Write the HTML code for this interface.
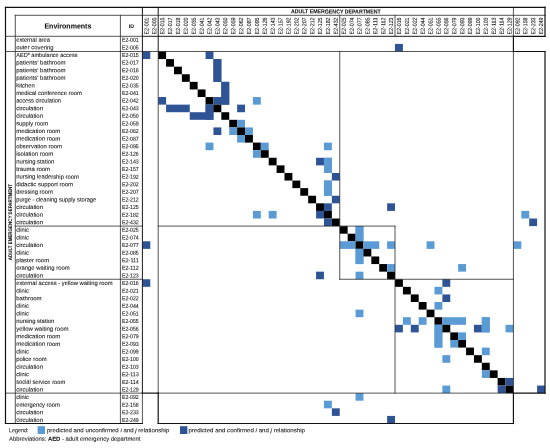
<!DOCTYPE html><html><head><meta charset="utf-8"><title>Adjacency matrix</title><style>html,body{margin:0;padding:0;background:#fff}svg{display:block}text{font-family:"Liberation Sans",sans-serif;fill:#111;stroke:#111;stroke-width:0.07px}</style></head><body>
<svg width="550" height="448" viewBox="0 0 550 448">
<rect width="550" height="448" fill="#fff"/>
<g shape-rendering="geometricPrecision">
<rect x="395.01" y="43.89" width="7.89" height="7.59" fill="#2f5496"/>
<rect x="142.40" y="51.48" width="7.89" height="7.59" fill="#2f5496"/>
<rect x="158.19" y="51.48" width="7.89" height="7.59" fill="#000"/>
<rect x="205.55" y="51.48" width="7.89" height="7.59" fill="#2f5496"/>
<rect x="166.08" y="59.08" width="7.89" height="7.59" fill="#000"/>
<rect x="213.45" y="59.08" width="7.89" height="7.59" fill="#2f5496"/>
<rect x="213.45" y="59.08" width="7.89" height="22.78" fill="#2f5496"/>
<rect x="173.98" y="66.67" width="7.89" height="7.59" fill="#000"/>
<rect x="213.45" y="66.67" width="7.89" height="7.59" fill="#2f5496"/>
<rect x="181.87" y="74.26" width="7.89" height="7.59" fill="#000"/>
<rect x="213.45" y="74.26" width="7.89" height="7.59" fill="#2f5496"/>
<rect x="189.76" y="81.85" width="7.89" height="7.59" fill="#000"/>
<rect x="221.34" y="81.85" width="7.89" height="7.59" fill="#2f5496"/>
<rect x="221.34" y="81.85" width="7.89" height="22.78" fill="#2f5496"/>
<rect x="197.66" y="89.45" width="7.89" height="7.59" fill="#000"/>
<rect x="221.34" y="89.45" width="7.89" height="7.59" fill="#2f5496"/>
<rect x="158.19" y="97.04" width="7.89" height="7.59" fill="#2f5496"/>
<rect x="205.55" y="97.04" width="7.89" height="7.59" fill="#000"/>
<rect x="213.45" y="97.04" width="15.79" height="7.59" fill="#2f5496"/>
<rect x="252.92" y="97.04" width="7.89" height="7.59" fill="#5b9bd5"/>
<rect x="166.08" y="104.63" width="23.68" height="7.59" fill="#2f5496"/>
<rect x="205.55" y="104.63" width="7.89" height="7.59" fill="#2f5496"/>
<rect x="205.55" y="104.63" width="7.89" height="15.18" fill="#2f5496"/>
<rect x="213.45" y="104.63" width="7.89" height="7.59" fill="#000"/>
<rect x="237.13" y="104.63" width="7.89" height="7.59" fill="#2f5496"/>
<rect x="189.76" y="112.22" width="23.68" height="7.59" fill="#2f5496"/>
<rect x="221.34" y="112.22" width="7.89" height="7.59" fill="#000"/>
<rect x="229.24" y="119.81" width="7.89" height="7.59" fill="#000"/>
<rect x="237.13" y="119.81" width="7.89" height="7.59" fill="#5b9bd5"/>
<rect x="213.45" y="127.41" width="7.89" height="7.59" fill="#2f5496"/>
<rect x="229.24" y="127.41" width="7.89" height="7.59" fill="#5b9bd5"/>
<rect x="237.13" y="127.41" width="7.89" height="7.59" fill="#000"/>
<rect x="245.02" y="127.41" width="7.89" height="7.59" fill="#5b9bd5"/>
<rect x="237.13" y="135.00" width="7.89" height="7.59" fill="#5b9bd5"/>
<rect x="245.02" y="135.00" width="7.89" height="7.59" fill="#000"/>
<rect x="205.55" y="142.59" width="7.89" height="7.59" fill="#5b9bd5"/>
<rect x="252.92" y="142.59" width="7.89" height="7.59" fill="#000"/>
<rect x="260.81" y="142.59" width="7.89" height="7.59" fill="#5b9bd5"/>
<rect x="323.96" y="142.59" width="7.89" height="7.59" fill="#5b9bd5"/>
<rect x="252.92" y="150.18" width="7.89" height="7.59" fill="#5b9bd5"/>
<rect x="260.81" y="150.18" width="7.89" height="7.59" fill="#000"/>
<rect x="268.71" y="157.77" width="7.89" height="7.59" fill="#000"/>
<rect x="316.07" y="157.77" width="7.89" height="7.59" fill="#2f5496"/>
<rect x="323.96" y="157.77" width="7.89" height="7.59" fill="#5b9bd5"/>
<rect x="323.96" y="157.77" width="7.89" height="15.18" fill="#5b9bd5"/>
<rect x="276.60" y="165.37" width="7.89" height="7.59" fill="#000"/>
<rect x="323.96" y="165.37" width="7.89" height="7.59" fill="#5b9bd5"/>
<rect x="284.49" y="172.96" width="7.89" height="7.59" fill="#000"/>
<rect x="331.86" y="172.96" width="7.89" height="7.59" fill="#2f5496"/>
<rect x="292.39" y="180.55" width="7.89" height="7.59" fill="#000"/>
<rect x="323.96" y="180.55" width="7.89" height="7.59" fill="#5b9bd5"/>
<rect x="323.96" y="180.55" width="7.89" height="15.18" fill="#5b9bd5"/>
<rect x="300.28" y="188.14" width="7.89" height="7.59" fill="#000"/>
<rect x="323.96" y="188.14" width="7.89" height="7.59" fill="#5b9bd5"/>
<rect x="308.18" y="195.74" width="7.89" height="7.59" fill="#000"/>
<rect x="331.86" y="195.74" width="7.89" height="7.59" fill="#2f5496"/>
<rect x="316.07" y="203.33" width="7.89" height="7.59" fill="#000"/>
<rect x="323.96" y="203.33" width="7.89" height="7.59" fill="#2f5496"/>
<rect x="387.12" y="203.33" width="7.89" height="7.59" fill="#2f5496"/>
<rect x="252.92" y="210.92" width="7.89" height="7.59" fill="#5b9bd5"/>
<rect x="268.71" y="210.92" width="7.89" height="7.59" fill="#5b9bd5"/>
<rect x="316.07" y="210.92" width="7.89" height="7.59" fill="#2f5496"/>
<rect x="323.96" y="210.92" width="7.89" height="7.59" fill="#000"/>
<rect x="521.32" y="210.92" width="7.89" height="7.59" fill="#5b9bd5"/>
<rect x="323.96" y="218.51" width="7.89" height="7.59" fill="#2f5496"/>
<rect x="331.86" y="218.51" width="7.89" height="7.59" fill="#000"/>
<rect x="529.21" y="218.51" width="7.89" height="7.59" fill="#2f5496"/>
<rect x="339.75" y="226.10" width="7.89" height="7.59" fill="#000"/>
<rect x="355.54" y="226.10" width="7.89" height="7.59" fill="#5b9bd5"/>
<rect x="355.54" y="226.10" width="7.89" height="15.18" fill="#5b9bd5"/>
<rect x="347.65" y="233.70" width="7.89" height="7.59" fill="#000"/>
<rect x="355.54" y="233.70" width="7.89" height="7.59" fill="#5b9bd5"/>
<rect x="142.40" y="241.29" width="7.89" height="7.59" fill="#2f5496"/>
<rect x="339.75" y="241.29" width="15.79" height="7.59" fill="#5b9bd5"/>
<rect x="355.54" y="241.29" width="7.89" height="7.59" fill="#000"/>
<rect x="363.44" y="241.29" width="15.79" height="7.59" fill="#5b9bd5"/>
<rect x="387.12" y="241.29" width="7.89" height="7.59" fill="#5b9bd5"/>
<rect x="426.59" y="241.29" width="7.89" height="7.59" fill="#5b9bd5"/>
<rect x="513.42" y="241.29" width="7.89" height="7.59" fill="#5b9bd5"/>
<rect x="355.54" y="248.88" width="7.89" height="7.59" fill="#5b9bd5"/>
<rect x="355.54" y="248.88" width="7.89" height="15.18" fill="#5b9bd5"/>
<rect x="363.44" y="248.88" width="7.89" height="7.59" fill="#000"/>
<rect x="355.54" y="256.47" width="7.89" height="7.59" fill="#5b9bd5"/>
<rect x="371.33" y="256.47" width="7.89" height="7.59" fill="#000"/>
<rect x="379.22" y="264.06" width="7.89" height="7.59" fill="#000"/>
<rect x="387.12" y="264.06" width="7.89" height="7.59" fill="#5b9bd5"/>
<rect x="458.16" y="264.06" width="7.89" height="7.59" fill="#5b9bd5"/>
<rect x="316.07" y="271.66" width="7.89" height="7.59" fill="#2f5496"/>
<rect x="355.54" y="271.66" width="7.89" height="7.59" fill="#5b9bd5"/>
<rect x="387.12" y="271.66" width="7.89" height="7.59" fill="#000"/>
<rect x="142.40" y="279.25" width="7.89" height="7.59" fill="#2f5496"/>
<rect x="395.01" y="279.25" width="7.89" height="7.59" fill="#000"/>
<rect x="442.38" y="279.25" width="7.89" height="7.59" fill="#2f5496"/>
<rect x="402.91" y="286.84" width="7.89" height="7.59" fill="#000"/>
<rect x="434.48" y="286.84" width="7.89" height="7.59" fill="#5b9bd5"/>
<rect x="410.80" y="294.43" width="7.89" height="7.59" fill="#000"/>
<rect x="442.38" y="294.43" width="7.89" height="7.59" fill="#2f5496"/>
<rect x="418.69" y="302.03" width="7.89" height="7.59" fill="#000"/>
<rect x="434.48" y="302.03" width="7.89" height="7.59" fill="#5b9bd5"/>
<rect x="355.54" y="309.62" width="7.89" height="7.59" fill="#5b9bd5"/>
<rect x="426.59" y="309.62" width="7.89" height="7.59" fill="#000"/>
<rect x="402.91" y="317.21" width="7.89" height="7.59" fill="#5b9bd5"/>
<rect x="418.69" y="317.21" width="7.89" height="7.59" fill="#5b9bd5"/>
<rect x="434.48" y="317.21" width="7.89" height="7.59" fill="#000"/>
<rect x="442.38" y="317.21" width="23.68" height="7.59" fill="#5b9bd5"/>
<rect x="481.85" y="317.21" width="7.89" height="7.59" fill="#5b9bd5"/>
<rect x="481.85" y="317.21" width="7.89" height="15.18" fill="#5b9bd5"/>
<rect x="395.01" y="324.80" width="7.89" height="7.59" fill="#2f5496"/>
<rect x="410.80" y="324.80" width="7.89" height="7.59" fill="#2f5496"/>
<rect x="434.48" y="324.80" width="7.89" height="7.59" fill="#5b9bd5"/>
<rect x="434.48" y="324.80" width="7.89" height="22.78" fill="#5b9bd5"/>
<rect x="442.38" y="324.80" width="7.89" height="7.59" fill="#000"/>
<rect x="473.95" y="324.80" width="7.89" height="7.59" fill="#2f5496"/>
<rect x="481.85" y="324.80" width="7.89" height="7.59" fill="#5b9bd5"/>
<rect x="505.53" y="324.80" width="7.89" height="7.59" fill="#5b9bd5"/>
<rect x="434.48" y="332.39" width="7.89" height="7.59" fill="#5b9bd5"/>
<rect x="450.27" y="332.39" width="7.89" height="7.59" fill="#000"/>
<rect x="458.16" y="332.39" width="7.89" height="7.59" fill="#5b9bd5"/>
<rect x="434.48" y="339.99" width="7.89" height="7.59" fill="#5b9bd5"/>
<rect x="450.27" y="339.99" width="7.89" height="7.59" fill="#5b9bd5"/>
<rect x="458.16" y="339.99" width="7.89" height="7.59" fill="#000"/>
<rect x="466.06" y="347.58" width="7.89" height="7.59" fill="#000"/>
<rect x="481.85" y="347.58" width="7.89" height="7.59" fill="#5b9bd5"/>
<rect x="442.38" y="355.17" width="7.89" height="7.59" fill="#5b9bd5"/>
<rect x="473.95" y="355.17" width="7.89" height="7.59" fill="#000"/>
<rect x="481.85" y="362.76" width="7.89" height="7.59" fill="#000"/>
<rect x="481.85" y="370.35" width="7.89" height="7.59" fill="#5b9bd5"/>
<rect x="489.74" y="370.35" width="7.89" height="7.59" fill="#000"/>
<rect x="497.64" y="377.95" width="7.89" height="7.59" fill="#000"/>
<rect x="505.53" y="377.95" width="7.89" height="7.59" fill="#2f5496"/>
<rect x="442.38" y="385.54" width="7.89" height="7.59" fill="#5b9bd5"/>
<rect x="497.64" y="385.54" width="7.89" height="7.59" fill="#2f5496"/>
<rect x="505.53" y="385.54" width="7.89" height="7.59" fill="#000"/>
<rect x="537.11" y="385.54" width="7.89" height="7.59" fill="#2f5496"/>
<rect x="355.54" y="393.13" width="7.89" height="7.59" fill="#5b9bd5"/>
<rect x="323.96" y="400.72" width="7.89" height="7.59" fill="#5b9bd5"/>
<rect x="331.86" y="408.32" width="7.89" height="7.59" fill="#2f5496"/>
<rect x="387.12" y="415.91" width="7.89" height="7.59" fill="#2f5496"/>
</g>
<g stroke="#2a2a2a" stroke-width="0.8" stroke-linecap="square" fill="none">
<line x1="15.30" y1="15.30" x2="545.00" y2="15.30"/>
<line x1="5.50" y1="36.30" x2="142.40" y2="36.30"/>
<line x1="5.50" y1="51.48" x2="513.42" y2="51.48"/>
<line x1="15.30" y1="226.10" x2="142.40" y2="226.10"/>
<line x1="158.19" y1="226.10" x2="395.01" y2="226.10"/>
<line x1="15.30" y1="279.25" x2="142.40" y2="279.25"/>
<line x1="339.75" y1="279.25" x2="513.42" y2="279.25"/>
<line x1="5.50" y1="393.13" x2="142.40" y2="393.13"/>
<line x1="158.19" y1="393.13" x2="513.42" y2="393.13"/>
<line x1="15.30" y1="15.30" x2="15.30" y2="423.50"/>
<line x1="120.40" y1="15.30" x2="120.40" y2="423.50"/>
<line x1="158.19" y1="51.48" x2="158.19" y2="393.13"/>
<line x1="339.75" y1="15.30" x2="339.75" y2="36.30"/>
<line x1="339.75" y1="51.48" x2="339.75" y2="279.25"/>
<line x1="395.01" y1="15.30" x2="395.01" y2="36.30"/>
<line x1="395.01" y1="226.10" x2="395.01" y2="393.13"/>
<line x1="513.42" y1="7.40" x2="513.42" y2="36.30"/>
<line x1="513.42" y1="51.48" x2="513.42" y2="393.13"/>
<line x1="142.40" y1="393.13" x2="142.40" y2="423.50"/>
</g>
<g stroke="#1a1a1a" stroke-width="1.0" stroke-linecap="square" fill="none">
<line x1="142.40" y1="36.30" x2="513.42" y2="36.30"/>
<line x1="142.40" y1="7.40" x2="142.40" y2="393.13"/>
<line x1="158.19" y1="7.40" x2="158.19" y2="51.48"/>
</g>
<g stroke="#111" stroke-width="1.2" stroke-linecap="square" fill="none">
<line x1="5.50" y1="7.40" x2="545.00" y2="7.40"/>
<line x1="5.50" y1="7.40" x2="5.50" y2="423.50"/>
<line x1="5.50" y1="423.50" x2="142.40" y2="423.50"/>
<line x1="545.00" y1="7.40" x2="545.00" y2="36.30"/>
<line x1="513.42" y1="36.30" x2="545.00" y2="36.30"/>
<line x1="513.42" y1="36.30" x2="513.42" y2="51.48"/>
<line x1="513.42" y1="51.48" x2="545.00" y2="51.48"/>
<line x1="545.00" y1="51.48" x2="545.00" y2="393.13"/>
<line x1="513.42" y1="393.13" x2="545.00" y2="393.13"/>
<line x1="513.42" y1="393.13" x2="513.42" y2="423.50"/>
<line x1="158.19" y1="423.50" x2="513.42" y2="423.50"/>
<line x1="158.19" y1="393.13" x2="158.19" y2="423.50"/>
<line x1="142.40" y1="393.13" x2="158.19" y2="393.13"/>
</g>
<text transform="matrix(1 0.001 0 1 0 -0.07)" x="67.9" y="28.6" text-anchor="middle" font-size="7.3" font-weight="bold" textLength="47" lengthAdjust="spacingAndGlyphs">Environments</text>
<text transform="matrix(1 0.001 0 1 0 -0.13)" x="131.4" y="28" text-anchor="middle" font-size="5.2" font-weight="bold">ID</text>
<text transform="matrix(1 0.001 0 1 0 -0.34)" x="335.8" y="13.4" text-anchor="middle" font-size="5.6" font-weight="bold" textLength="89.8" lengthAdjust="spacingAndGlyphs">ADULT EMERGENCY DEPARTMENT</text>
<text transform="translate(12,222.1) rotate(-90.04)" text-anchor="middle" font-size="5.2" font-weight="bold" textLength="76.3" lengthAdjust="spacingAndGlyphs">ADULT EMERGENCY DEPARTMENT</text>
<g font-size="5.85">
<text transform="matrix(1 0.001 0 1 0 -0.05)" x="16.2" y="41.80" textLength="33.79" lengthAdjust="spacingAndGlyphs">external area</text>
<text transform="matrix(1 0.001 0 1 0 -0.13)" x="121.9" y="41.80" textLength="16.9" lengthAdjust="spacingAndGlyphs">E2-001</text>
<text transform="matrix(1 0.001 0 1 0 -0.05)" x="16.2" y="49.40" textLength="37.33" lengthAdjust="spacingAndGlyphs">outer covering</text>
<text transform="matrix(1 0.001 0 1 0 -0.13)" x="121.9" y="49.40" textLength="16.9" lengthAdjust="spacingAndGlyphs">E2-005</text>
<text transform="matrix(1 0.001 0 1 0 -0.05)" x="16.2" y="57.00" textLength="61.37" lengthAdjust="spacingAndGlyphs">AED* ambulance access</text>
<text transform="matrix(1 0.001 0 1 0 -0.13)" x="121.9" y="57.00" textLength="16.9" lengthAdjust="spacingAndGlyphs">E2-015</text>
<text transform="matrix(1 0.001 0 1 0 -0.05)" x="16.2" y="64.61" textLength="49.38" lengthAdjust="spacingAndGlyphs">patients' bathroom</text>
<text transform="matrix(1 0.001 0 1 0 -0.13)" x="121.9" y="64.61" textLength="16.9" lengthAdjust="spacingAndGlyphs">E2-017</text>
<text transform="matrix(1 0.001 0 1 0 -0.05)" x="16.2" y="72.21" textLength="49.38" lengthAdjust="spacingAndGlyphs">patients' bathroom</text>
<text transform="matrix(1 0.001 0 1 0 -0.13)" x="121.9" y="72.21" textLength="16.9" lengthAdjust="spacingAndGlyphs">E2-018</text>
<text transform="matrix(1 0.001 0 1 0 -0.05)" x="16.2" y="79.81" textLength="49.38" lengthAdjust="spacingAndGlyphs">patients' bathroom</text>
<text transform="matrix(1 0.001 0 1 0 -0.13)" x="121.9" y="79.81" textLength="16.9" lengthAdjust="spacingAndGlyphs">E2-020</text>
<text transform="matrix(1 0.001 0 1 0 -0.05)" x="16.2" y="87.41" textLength="18.64" lengthAdjust="spacingAndGlyphs">kitchen</text>
<text transform="matrix(1 0.001 0 1 0 -0.13)" x="121.9" y="87.41" textLength="16.9" lengthAdjust="spacingAndGlyphs">E2-035</text>
<text transform="matrix(1 0.001 0 1 0 -0.05)" x="16.2" y="95.02" textLength="65.74" lengthAdjust="spacingAndGlyphs">medical conference room</text>
<text transform="matrix(1 0.001 0 1 0 -0.13)" x="121.9" y="95.02" textLength="16.9" lengthAdjust="spacingAndGlyphs">E2-041</text>
<text transform="matrix(1 0.001 0 1 0 -0.05)" x="16.2" y="102.62" textLength="44.77" lengthAdjust="spacingAndGlyphs">access circulation</text>
<text transform="matrix(1 0.001 0 1 0 -0.13)" x="121.9" y="102.62" textLength="16.9" lengthAdjust="spacingAndGlyphs">E2-042</text>
<text transform="matrix(1 0.001 0 1 0 -0.05)" x="16.2" y="110.22" textLength="26.80" lengthAdjust="spacingAndGlyphs">circulation</text>
<text transform="matrix(1 0.001 0 1 0 -0.13)" x="121.9" y="110.22" textLength="16.9" lengthAdjust="spacingAndGlyphs">E2-043</text>
<text transform="matrix(1 0.001 0 1 0 -0.05)" x="16.2" y="117.82" textLength="26.80" lengthAdjust="spacingAndGlyphs">circulation</text>
<text transform="matrix(1 0.001 0 1 0 -0.13)" x="121.9" y="117.82" textLength="16.9" lengthAdjust="spacingAndGlyphs">E2-050</text>
<text transform="matrix(1 0.001 0 1 0 -0.05)" x="16.2" y="125.42" textLength="31.89" lengthAdjust="spacingAndGlyphs">supply room</text>
<text transform="matrix(1 0.001 0 1 0 -0.13)" x="121.9" y="125.42" textLength="16.9" lengthAdjust="spacingAndGlyphs">E2-059</text>
<text transform="matrix(1 0.001 0 1 0 -0.05)" x="16.2" y="133.03" textLength="44.09" lengthAdjust="spacingAndGlyphs">medication room</text>
<text transform="matrix(1 0.001 0 1 0 -0.13)" x="121.9" y="133.03" textLength="16.9" lengthAdjust="spacingAndGlyphs">E2-062</text>
<text transform="matrix(1 0.001 0 1 0 -0.05)" x="16.2" y="140.63" textLength="44.09" lengthAdjust="spacingAndGlyphs">medication room</text>
<text transform="matrix(1 0.001 0 1 0 -0.13)" x="121.9" y="140.63" textLength="16.9" lengthAdjust="spacingAndGlyphs">E2-087</text>
<text transform="matrix(1 0.001 0 1 0 -0.05)" x="16.2" y="148.23" textLength="45.79" lengthAdjust="spacingAndGlyphs">observation room</text>
<text transform="matrix(1 0.001 0 1 0 -0.13)" x="121.9" y="148.23" textLength="16.9" lengthAdjust="spacingAndGlyphs">E2-095</text>
<text transform="matrix(1 0.001 0 1 0 -0.05)" x="16.2" y="155.83" textLength="37.13" lengthAdjust="spacingAndGlyphs">isolation room</text>
<text transform="matrix(1 0.001 0 1 0 -0.13)" x="121.9" y="155.83" textLength="16.9" lengthAdjust="spacingAndGlyphs">E2-126</text>
<text transform="matrix(1 0.001 0 1 0 -0.05)" x="16.2" y="163.43" textLength="38.16" lengthAdjust="spacingAndGlyphs">nursing station</text>
<text transform="matrix(1 0.001 0 1 0 -0.13)" x="121.9" y="163.43" textLength="16.9" lengthAdjust="spacingAndGlyphs">E2-143</text>
<text transform="matrix(1 0.001 0 1 0 -0.05)" x="16.2" y="171.04" textLength="33.90" lengthAdjust="spacingAndGlyphs">trauma room</text>
<text transform="matrix(1 0.001 0 1 0 -0.13)" x="121.9" y="171.04" textLength="16.9" lengthAdjust="spacingAndGlyphs">E2-157</text>
<text transform="matrix(1 0.001 0 1 0 -0.05)" x="16.2" y="178.64" textLength="62.64" lengthAdjust="spacingAndGlyphs">nursing leadership room</text>
<text transform="matrix(1 0.001 0 1 0 -0.13)" x="121.9" y="178.64" textLength="16.9" lengthAdjust="spacingAndGlyphs">E2-192</text>
<text transform="matrix(1 0.001 0 1 0 -0.05)" x="16.2" y="186.24" textLength="56.81" lengthAdjust="spacingAndGlyphs">didactic support room</text>
<text transform="matrix(1 0.001 0 1 0 -0.13)" x="121.9" y="186.24" textLength="16.9" lengthAdjust="spacingAndGlyphs">E2-202</text>
<text transform="matrix(1 0.001 0 1 0 -0.05)" x="16.2" y="193.84" textLength="36.53" lengthAdjust="spacingAndGlyphs">dressing room</text>
<text transform="matrix(1 0.001 0 1 0 -0.13)" x="121.9" y="193.84" textLength="16.9" lengthAdjust="spacingAndGlyphs">E2-207</text>
<text transform="matrix(1 0.001 0 1 0 -0.05)" x="16.2" y="201.45" textLength="80.02" lengthAdjust="spacingAndGlyphs">purge - cleaning supply storage</text>
<text transform="matrix(1 0.001 0 1 0 -0.13)" x="121.9" y="201.45" textLength="16.9" lengthAdjust="spacingAndGlyphs">E2-212</text>
<text transform="matrix(1 0.001 0 1 0 -0.05)" x="16.2" y="209.05" textLength="26.80" lengthAdjust="spacingAndGlyphs">circulation</text>
<text transform="matrix(1 0.001 0 1 0 -0.13)" x="121.9" y="209.05" textLength="16.9" lengthAdjust="spacingAndGlyphs">E2-125</text>
<text transform="matrix(1 0.001 0 1 0 -0.05)" x="16.2" y="216.65" textLength="26.80" lengthAdjust="spacingAndGlyphs">circulation</text>
<text transform="matrix(1 0.001 0 1 0 -0.13)" x="121.9" y="216.65" textLength="16.9" lengthAdjust="spacingAndGlyphs">E2-182</text>
<text transform="matrix(1 0.001 0 1 0 -0.05)" x="16.2" y="224.25" textLength="26.80" lengthAdjust="spacingAndGlyphs">circulation</text>
<text transform="matrix(1 0.001 0 1 0 -0.13)" x="121.9" y="224.25" textLength="16.9" lengthAdjust="spacingAndGlyphs">E2-432</text>
<text transform="matrix(1 0.001 0 1 0 -0.05)" x="16.2" y="231.85" textLength="12.73" lengthAdjust="spacingAndGlyphs">clinic</text>
<text transform="matrix(1 0.001 0 1 0 -0.13)" x="121.9" y="231.85" textLength="16.9" lengthAdjust="spacingAndGlyphs">E2-025</text>
<text transform="matrix(1 0.001 0 1 0 -0.05)" x="16.2" y="239.46" textLength="12.73" lengthAdjust="spacingAndGlyphs">clinic</text>
<text transform="matrix(1 0.001 0 1 0 -0.13)" x="121.9" y="239.46" textLength="16.9" lengthAdjust="spacingAndGlyphs">E2-074</text>
<text transform="matrix(1 0.001 0 1 0 -0.05)" x="16.2" y="247.06" textLength="26.80" lengthAdjust="spacingAndGlyphs">circulation</text>
<text transform="matrix(1 0.001 0 1 0 -0.13)" x="121.9" y="247.06" textLength="16.9" lengthAdjust="spacingAndGlyphs">E2-077</text>
<text transform="matrix(1 0.001 0 1 0 -0.05)" x="16.2" y="254.66" textLength="12.73" lengthAdjust="spacingAndGlyphs">clinic</text>
<text transform="matrix(1 0.001 0 1 0 -0.13)" x="121.9" y="254.66" textLength="16.9" lengthAdjust="spacingAndGlyphs">E2-085</text>
<text transform="matrix(1 0.001 0 1 0 -0.05)" x="16.2" y="262.26" textLength="32.89" lengthAdjust="spacingAndGlyphs">plaster room</text>
<text transform="matrix(1 0.001 0 1 0 -0.13)" x="121.9" y="262.26" textLength="16.9" lengthAdjust="spacingAndGlyphs">E2-111</text>
<text transform="matrix(1 0.001 0 1 0 -0.05)" x="16.2" y="269.86" textLength="53.54" lengthAdjust="spacingAndGlyphs">orange waiting room</text>
<text transform="matrix(1 0.001 0 1 0 -0.13)" x="121.9" y="269.86" textLength="16.9" lengthAdjust="spacingAndGlyphs">E2-112</text>
<text transform="matrix(1 0.001 0 1 0 -0.05)" x="16.2" y="277.47" textLength="26.80" lengthAdjust="spacingAndGlyphs">circulation</text>
<text transform="matrix(1 0.001 0 1 0 -0.13)" x="121.9" y="277.47" textLength="16.9" lengthAdjust="spacingAndGlyphs">E2-123</text>
<text transform="matrix(1 0.001 0 1 0 -0.05)" x="16.2" y="285.07" textLength="96.32" lengthAdjust="spacingAndGlyphs">external access - yellow waiting room</text>
<text transform="matrix(1 0.001 0 1 0 -0.13)" x="121.9" y="285.07" textLength="16.9" lengthAdjust="spacingAndGlyphs">E2-016</text>
<text transform="matrix(1 0.001 0 1 0 -0.05)" x="16.2" y="292.67" textLength="12.73" lengthAdjust="spacingAndGlyphs">clinic</text>
<text transform="matrix(1 0.001 0 1 0 -0.13)" x="121.9" y="292.67" textLength="16.9" lengthAdjust="spacingAndGlyphs">E2-021</text>
<text transform="matrix(1 0.001 0 1 0 -0.05)" x="16.2" y="300.27" textLength="25.47" lengthAdjust="spacingAndGlyphs">bathroom</text>
<text transform="matrix(1 0.001 0 1 0 -0.13)" x="121.9" y="300.27" textLength="16.9" lengthAdjust="spacingAndGlyphs">E2-022</text>
<text transform="matrix(1 0.001 0 1 0 -0.05)" x="16.2" y="307.88" textLength="12.73" lengthAdjust="spacingAndGlyphs">clinic</text>
<text transform="matrix(1 0.001 0 1 0 -0.13)" x="121.9" y="307.88" textLength="16.9" lengthAdjust="spacingAndGlyphs">E2-044</text>
<text transform="matrix(1 0.001 0 1 0 -0.05)" x="16.2" y="315.48" textLength="12.73" lengthAdjust="spacingAndGlyphs">clinic</text>
<text transform="matrix(1 0.001 0 1 0 -0.13)" x="121.9" y="315.48" textLength="16.9" lengthAdjust="spacingAndGlyphs">E2-051</text>
<text transform="matrix(1 0.001 0 1 0 -0.05)" x="16.2" y="323.08" textLength="38.16" lengthAdjust="spacingAndGlyphs">nursing station</text>
<text transform="matrix(1 0.001 0 1 0 -0.13)" x="121.9" y="323.08" textLength="16.9" lengthAdjust="spacingAndGlyphs">E2-055</text>
<text transform="matrix(1 0.001 0 1 0 -0.05)" x="16.2" y="330.68" textLength="52.29" lengthAdjust="spacingAndGlyphs">yellow waiting room</text>
<text transform="matrix(1 0.001 0 1 0 -0.13)" x="121.9" y="330.68" textLength="16.9" lengthAdjust="spacingAndGlyphs">E2-056</text>
<text transform="matrix(1 0.001 0 1 0 -0.05)" x="16.2" y="338.28" textLength="44.09" lengthAdjust="spacingAndGlyphs">medication room</text>
<text transform="matrix(1 0.001 0 1 0 -0.13)" x="121.9" y="338.28" textLength="16.9" lengthAdjust="spacingAndGlyphs">E2-079</text>
<text transform="matrix(1 0.001 0 1 0 -0.05)" x="16.2" y="345.89" textLength="44.09" lengthAdjust="spacingAndGlyphs">medication room</text>
<text transform="matrix(1 0.001 0 1 0 -0.13)" x="121.9" y="345.89" textLength="16.9" lengthAdjust="spacingAndGlyphs">E2-093</text>
<text transform="matrix(1 0.001 0 1 0 -0.05)" x="16.2" y="353.49" textLength="12.73" lengthAdjust="spacingAndGlyphs">clinic</text>
<text transform="matrix(1 0.001 0 1 0 -0.13)" x="121.9" y="353.49" textLength="16.9" lengthAdjust="spacingAndGlyphs">E2-099</text>
<text transform="matrix(1 0.001 0 1 0 -0.05)" x="16.2" y="361.09" textLength="30.51" lengthAdjust="spacingAndGlyphs">police room</text>
<text transform="matrix(1 0.001 0 1 0 -0.13)" x="121.9" y="361.09" textLength="16.9" lengthAdjust="spacingAndGlyphs">E2-100</text>
<text transform="matrix(1 0.001 0 1 0 -0.05)" x="16.2" y="368.69" textLength="26.80" lengthAdjust="spacingAndGlyphs">circulation</text>
<text transform="matrix(1 0.001 0 1 0 -0.13)" x="121.9" y="368.69" textLength="16.9" lengthAdjust="spacingAndGlyphs">E2-103</text>
<text transform="matrix(1 0.001 0 1 0 -0.05)" x="16.2" y="376.29" textLength="12.73" lengthAdjust="spacingAndGlyphs">clinic</text>
<text transform="matrix(1 0.001 0 1 0 -0.13)" x="121.9" y="376.29" textLength="16.9" lengthAdjust="spacingAndGlyphs">E2-113</text>
<text transform="matrix(1 0.001 0 1 0 -0.05)" x="16.2" y="383.90" textLength="49.01" lengthAdjust="spacingAndGlyphs">social service room</text>
<text transform="matrix(1 0.001 0 1 0 -0.13)" x="121.9" y="383.90" textLength="16.9" lengthAdjust="spacingAndGlyphs">E2-114</text>
<text transform="matrix(1 0.001 0 1 0 -0.05)" x="16.2" y="391.50" textLength="26.80" lengthAdjust="spacingAndGlyphs">circulation</text>
<text transform="matrix(1 0.001 0 1 0 -0.13)" x="121.9" y="391.50" textLength="16.9" lengthAdjust="spacingAndGlyphs">E2-129</text>
<text transform="matrix(1 0.001 0 1 0 -0.05)" x="16.2" y="399.10" textLength="12.73" lengthAdjust="spacingAndGlyphs">clinic</text>
<text transform="matrix(1 0.001 0 1 0 -0.13)" x="121.9" y="399.10" textLength="16.9" lengthAdjust="spacingAndGlyphs">E2-092</text>
<text transform="matrix(1 0.001 0 1 0 -0.05)" x="16.2" y="406.70" textLength="43.72" lengthAdjust="spacingAndGlyphs">emergency room</text>
<text transform="matrix(1 0.001 0 1 0 -0.13)" x="121.9" y="406.70" textLength="16.9" lengthAdjust="spacingAndGlyphs">E2-158</text>
<text transform="matrix(1 0.001 0 1 0 -0.05)" x="16.2" y="414.31" textLength="26.80" lengthAdjust="spacingAndGlyphs">circulation</text>
<text transform="matrix(1 0.001 0 1 0 -0.13)" x="121.9" y="414.31" textLength="16.9" lengthAdjust="spacingAndGlyphs">E2-233</text>
<text transform="matrix(1 0.001 0 1 0 -0.05)" x="16.2" y="421.91" textLength="26.80" lengthAdjust="spacingAndGlyphs">circulation</text>
<text transform="matrix(1 0.001 0 1 0 -0.13)" x="121.9" y="421.91" textLength="16.9" lengthAdjust="spacingAndGlyphs">E2-249</text>
</g>
<g font-size="5.85">
<text transform="translate(148.40,34.6) rotate(-90.06)" textLength="17.2" lengthAdjust="spacingAndGlyphs">E2-001</text>
<text transform="translate(156.29,34.6) rotate(-90.06)" textLength="17.2" lengthAdjust="spacingAndGlyphs">E2-005</text>
<text transform="translate(164.19,34.6) rotate(-90.06)" textLength="17.2" lengthAdjust="spacingAndGlyphs">E2-015</text>
<text transform="translate(172.08,34.6) rotate(-90.06)" textLength="17.2" lengthAdjust="spacingAndGlyphs">E2-017</text>
<text transform="translate(179.97,34.6) rotate(-90.06)" textLength="17.2" lengthAdjust="spacingAndGlyphs">E2-018</text>
<text transform="translate(187.87,34.6) rotate(-90.06)" textLength="17.2" lengthAdjust="spacingAndGlyphs">E2-020</text>
<text transform="translate(195.76,34.6) rotate(-90.06)" textLength="17.2" lengthAdjust="spacingAndGlyphs">E2-035</text>
<text transform="translate(203.66,34.6) rotate(-90.06)" textLength="17.2" lengthAdjust="spacingAndGlyphs">E2-041</text>
<text transform="translate(211.55,34.6) rotate(-90.06)" textLength="17.2" lengthAdjust="spacingAndGlyphs">E2-042</text>
<text transform="translate(219.44,34.6) rotate(-90.06)" textLength="17.2" lengthAdjust="spacingAndGlyphs">E2-043</text>
<text transform="translate(227.34,34.6) rotate(-90.06)" textLength="17.2" lengthAdjust="spacingAndGlyphs">E2-050</text>
<text transform="translate(235.23,34.6) rotate(-90.06)" textLength="17.2" lengthAdjust="spacingAndGlyphs">E2-059</text>
<text transform="translate(243.13,34.6) rotate(-90.06)" textLength="17.2" lengthAdjust="spacingAndGlyphs">E2-062</text>
<text transform="translate(251.02,34.6) rotate(-90.06)" textLength="17.2" lengthAdjust="spacingAndGlyphs">E2-087</text>
<text transform="translate(258.91,34.6) rotate(-90.06)" textLength="17.2" lengthAdjust="spacingAndGlyphs">E2-095</text>
<text transform="translate(266.81,34.6) rotate(-90.06)" textLength="17.2" lengthAdjust="spacingAndGlyphs">E2-126</text>
<text transform="translate(274.70,34.6) rotate(-90.06)" textLength="17.2" lengthAdjust="spacingAndGlyphs">E2-143</text>
<text transform="translate(282.60,34.6) rotate(-90.06)" textLength="17.2" lengthAdjust="spacingAndGlyphs">E2-157</text>
<text transform="translate(290.49,34.6) rotate(-90.06)" textLength="17.2" lengthAdjust="spacingAndGlyphs">E2-192</text>
<text transform="translate(298.39,34.6) rotate(-90.06)" textLength="17.2" lengthAdjust="spacingAndGlyphs">E2-202</text>
<text transform="translate(306.28,34.6) rotate(-90.06)" textLength="17.2" lengthAdjust="spacingAndGlyphs">E2-207</text>
<text transform="translate(314.17,34.6) rotate(-90.06)" textLength="17.2" lengthAdjust="spacingAndGlyphs">E2-212</text>
<text transform="translate(322.07,34.6) rotate(-90.06)" textLength="17.2" lengthAdjust="spacingAndGlyphs">E2-125</text>
<text transform="translate(329.96,34.6) rotate(-90.06)" textLength="17.2" lengthAdjust="spacingAndGlyphs">E2-182</text>
<text transform="translate(337.86,34.6) rotate(-90.06)" textLength="17.2" lengthAdjust="spacingAndGlyphs">E2-432</text>
<text transform="translate(345.75,34.6) rotate(-90.06)" textLength="17.2" lengthAdjust="spacingAndGlyphs">E2-025</text>
<text transform="translate(353.64,34.6) rotate(-90.06)" textLength="17.2" lengthAdjust="spacingAndGlyphs">E2-074</text>
<text transform="translate(361.54,34.6) rotate(-90.06)" textLength="17.2" lengthAdjust="spacingAndGlyphs">E2-077</text>
<text transform="translate(369.43,34.6) rotate(-90.06)" textLength="17.2" lengthAdjust="spacingAndGlyphs">E2-085</text>
<text transform="translate(377.33,34.6) rotate(-90.06)" textLength="17.2" lengthAdjust="spacingAndGlyphs">E2-111</text>
<text transform="translate(385.22,34.6) rotate(-90.06)" textLength="17.2" lengthAdjust="spacingAndGlyphs">E2-112</text>
<text transform="translate(393.11,34.6) rotate(-90.06)" textLength="17.2" lengthAdjust="spacingAndGlyphs">E2-123</text>
<text transform="translate(401.01,34.6) rotate(-90.06)" textLength="17.2" lengthAdjust="spacingAndGlyphs">E2-016</text>
<text transform="translate(408.90,34.6) rotate(-90.06)" textLength="17.2" lengthAdjust="spacingAndGlyphs">E2-021</text>
<text transform="translate(416.80,34.6) rotate(-90.06)" textLength="17.2" lengthAdjust="spacingAndGlyphs">E2-022</text>
<text transform="translate(424.69,34.6) rotate(-90.06)" textLength="17.2" lengthAdjust="spacingAndGlyphs">E2-044</text>
<text transform="translate(432.59,34.6) rotate(-90.06)" textLength="17.2" lengthAdjust="spacingAndGlyphs">E2-051</text>
<text transform="translate(440.48,34.6) rotate(-90.06)" textLength="17.2" lengthAdjust="spacingAndGlyphs">E2-055</text>
<text transform="translate(448.37,34.6) rotate(-90.06)" textLength="17.2" lengthAdjust="spacingAndGlyphs">E2-056</text>
<text transform="translate(456.27,34.6) rotate(-90.06)" textLength="17.2" lengthAdjust="spacingAndGlyphs">E2-079</text>
<text transform="translate(464.16,34.6) rotate(-90.06)" textLength="17.2" lengthAdjust="spacingAndGlyphs">E2-093</text>
<text transform="translate(472.06,34.6) rotate(-90.06)" textLength="17.2" lengthAdjust="spacingAndGlyphs">E2-099</text>
<text transform="translate(479.95,34.6) rotate(-90.06)" textLength="17.2" lengthAdjust="spacingAndGlyphs">E2-100</text>
<text transform="translate(487.84,34.6) rotate(-90.06)" textLength="17.2" lengthAdjust="spacingAndGlyphs">E2-103</text>
<text transform="translate(495.74,34.6) rotate(-90.06)" textLength="17.2" lengthAdjust="spacingAndGlyphs">E2-113</text>
<text transform="translate(503.63,34.6) rotate(-90.06)" textLength="17.2" lengthAdjust="spacingAndGlyphs">E2-114</text>
<text transform="translate(511.53,34.6) rotate(-90.06)" textLength="17.2" lengthAdjust="spacingAndGlyphs">E2-129</text>
<text transform="translate(519.42,34.6) rotate(-90.06)" textLength="17.2" lengthAdjust="spacingAndGlyphs">E2-092</text>
<text transform="translate(527.31,34.6) rotate(-90.06)" textLength="17.2" lengthAdjust="spacingAndGlyphs">E2-158</text>
<text transform="translate(535.21,34.6) rotate(-90.06)" textLength="17.2" lengthAdjust="spacingAndGlyphs">E2-233</text>
<text transform="translate(543.10,34.6) rotate(-90.06)" textLength="17.2" lengthAdjust="spacingAndGlyphs">E2-249</text>
</g>
<rect x="37.6" y="426.2" width="7.4" height="7.8" fill="#5b9bd5"/>
<rect x="180" y="426.2" width="7.4" height="7.8" fill="#2f5496"/>
<g font-size="5.85">
<text transform="matrix(1 0.001 0 1 0 0)" x="9" y="432.2" textLength="19.4" lengthAdjust="spacingAndGlyphs">Legend:</text>
<text transform="matrix(1 0.001 0 1 0 -0.1)" x="47" y="432.2" textLength="122.3" lengthAdjust="spacingAndGlyphs">predicted and unconfirmed <tspan font-style="italic">i</tspan>  and <tspan font-style="italic">j</tspan>  relationship</text>
<text transform="matrix(1 0.001 0 1 0 -0.24)" x="188.4" y="432.2" textLength="116.5" lengthAdjust="spacingAndGlyphs">predicted and confirmed <tspan font-style="italic">i</tspan>  and <tspan font-style="italic">j</tspan>  relationship</text>
<text transform="matrix(1 0.001 0 1 0 -0.07)" x="9" y="440.8" textLength="131.5" lengthAdjust="spacingAndGlyphs">Abbreviations: <tspan font-weight="bold">AED</tspan> - adult emergency department</text>
</g>
</svg></body></html>
